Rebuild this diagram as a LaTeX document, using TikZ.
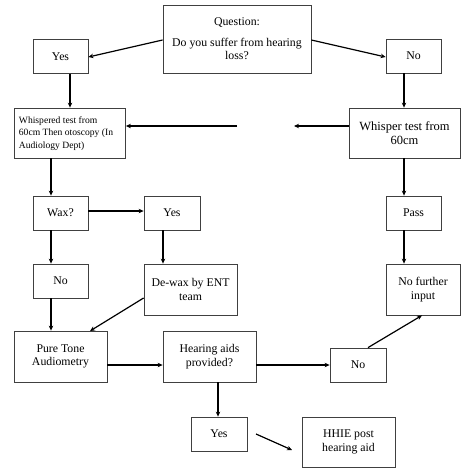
\documentclass[tikz,border=0pt]{standalone}
\usepackage{fontspec}
\setmainfont{Liberation Serif}
\usetikzlibrary{arrows.meta}
\begin{document}
\begin{tikzpicture}[x=1pt,y=-1pt,
  box/.style={draw=black!75,line width=0.8pt,align=center,inner sep=0pt,font=\fontsize{11.8}{13.5}\selectfont},
  arr/.style={draw=black,line width=1.2pt,-{Stealth[length=5pt,width=4.5pt]}}]
\useasboundingbox[fill=white] (0,0) rectangle (474,474);
\node[box,minimum width=148,minimum height=68] (q) at (237,39) {Question:\\[7pt]Do you suffer from hearing\\loss?};
\node[box,minimum width=55,minimum height=34] (yes1) at (60.5,56.5) {Yes};
\node[box,minimum width=55,minimum height=34] (no1) at (413.5,56) {No};
\node[box,minimum width=111,minimum height=50,align=left,font=\fontsize{9.6}{12.5}\selectfont] (wt) at (70,133) {\hspace*{-4pt}\begin{tabular}{@{}l@{}}Whispered test from\\60cm Then otoscopy (In\\Audiology Dept)\end{tabular}\hspace*{4pt}};
\node[box,minimum width=111,minimum height=50,font=\fontsize{12.5}{14}\selectfont] (wt60) at (404.5,133) {Whisper test from\\60cm};
\node[box,minimum width=55,minimum height=34] (wax) at (60.5,213) {Wax?};
\node[box,minimum width=56,minimum height=34] (yes2) at (172,213) {Yes};
\node[box,minimum width=55,minimum height=34] (pass) at (413.5,213) {Pass};
\node[box,minimum width=55,minimum height=34] (no2) at (60.5,281) {No};
\node[box,minimum width=93,minimum height=51] (dewax) at (190.5,289.5) {De-wax by ENT\\team};
\node[box,minimum width=74,minimum height=51] (nfi) at (423,289.5) {No further\\input};
\node[box,minimum width=93,minimum height=51] (pta) at (60.5,356.5) {Pure Tone\\Audiometry};
\node[box,minimum width=93,minimum height=51] (ha) at (209.5,356.5) {Hearing aids\\provided?};
\node[box,minimum width=56,minimum height=34] (no3) at (358,365) {No};
\node[box,minimum width=56,minimum height=34] (yes3) at (219,434) {Yes};
\node[box,minimum width=93,minimum height=50] (hhie) at (348.5,442) {HHIE post\\hearing aid};
% free ends
\coordinate (m1) at (237,126);
\coordinate (m2) at (294,126);
\coordinate (y3e) at (256,434);
\coordinate (hhe) at (292,450);
% connectors
\draw[arr] (q.west|-0,40) -- (yes1.east|-0,57);
\draw[arr] (q.east|-0,40) -- (no1.west|-0,57);
\draw[arr] (yes1.south-|70,0) -- (wt.north-|70,0);
\draw[arr] (no1.south-|404,0) -- (wt60.north-|404,0);
\draw[arr] (m1) -- (wt.east|-m1);
\draw[arr] (wt60.west|-m2) -- (m2);
\draw[arr] (wt.south-|51,0) -- (wax.north-|51,0);
\draw[arr] (wt60.south-|404,0) -- (pass.north-|404,0);
\draw[arr] (wax.east|-0,211) -- (yes2.west|-0,211);
\draw[arr] (wax.south-|51,0) -- (no2.north-|51,0);
\draw[arr] (yes2.south-|163,0) -- (dewax.north-|163,0);
\draw[arr] (pass.south-|404,0) -- (nfi.north-|404,0);
\draw[arr] (no2.south-|51,0) -- (pta.north-|51,0);
\draw[arr] (dewax.west|-0,298) -- (90,331);
\draw[arr] (pta.east|-0,365) -- (ha.west|-0,365);
\draw[arr] (ha.east|-0,365) -- (no3.west|-0,365);
\draw[arr] (no3.north-|368,0) -- (nfi.south-|422,0);
\draw[arr] (ha.south-|218,0) -- (yes3.north-|218,0);
\draw[arr] (y3e) -- (hhe);
\end{tikzpicture}
\end{document}
